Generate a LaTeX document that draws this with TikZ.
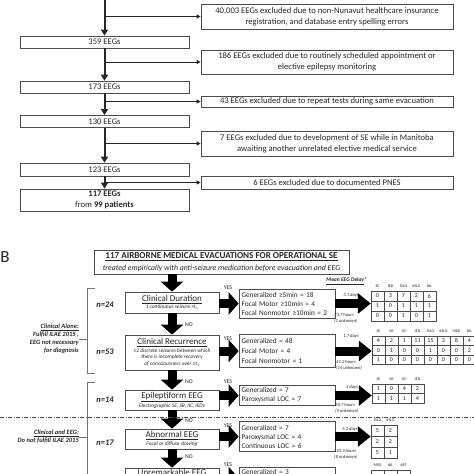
\documentclass[tikz,border=0pt]{standalone}
\usepackage{fontspec}
\setmainfont{Carlito}
\usetikzlibrary{arrows.meta}
\newcommand\mktab[6]{%
  \foreach \h [count=\c] in {#5} \node[hdr] (#1h\c) at ({#2+\c*13-6.5},{#3-5}) {\h};
  \foreach \r/\vals in {#6} {\foreach \v [count=\c] in \vals {\node[cell, minimum height=#4] (#1-\r-\c) at ({#2+\c*13-6.5},{#3+\r*#4-#4/2}) {\v};}}
}
\newcommand\ttlfont{\fontsize{9}{10}\selectfont}
\begin{document}
\begin{tikzpicture}[x=1pt,y=-1pt,
 abox/.style={draw=black!70, line width=0.7pt, align=center, inner sep=0pt, text=black!85, font=\fontsize{8.6}{11}\selectfont},
 mainarr/.style={draw=black!85, line width=2pt, -{Triangle[length=6pt,width=7pt]}},
 brarr/.style={draw=black!85, line width=0.9pt, -{Triangle[length=4pt,width=4pt]}},
 cbox/.style={draw=black!70, line width=0.7pt, align=center, inner sep=0pt, minimum width=94pt, text=black!85, font=\fontsize{5.4}{6.6}\selectfont\itshape},
 gbox/.style={draw=black!70, line width=0.7pt, align=left, inner xsep=2.5pt, inner ysep=0pt, text width=91pt, text=black!85, font=\fontsize{7.3}{9}\selectfont},
 fat/.style={draw=black, line width=9pt, -{Triangle[length=10pt,width=22pt]}},
 fatr/.style={draw=black, line width=9pt, -{Triangle[length=13pt,width=20pt]}},
 cell/.style={draw=black!70, line width=0.5pt, minimum width=13pt, inner sep=0pt, font=\fontsize{6}{6}\selectfont, text=black!85},
 hdr/.style={font=\fontsize{4}{4}\selectfont, text=black!85, inner sep=0pt},
 yn/.style={font=\fontsize{5.8}{6}\selectfont, text=black!85, inner sep=0pt},
 nlab/.style={font=\fontsize{8.5}{9}\selectfont\bfseries\itshape, text=black!85, inner sep=0pt},
 dly/.style={font=\fontsize{4.6}{5}\selectfont\itshape, text=black!85, inner sep=0pt},
 hrs/.style={font=\fontsize{4.6}{6}\selectfont\itshape, text=black!85, inner sep=0pt, align=left},
 brk/.style={draw=black!55, line width=0.6pt},
 side/.style={font=\fontsize{6.5}{8}\selectfont\bfseries\itshape, align=right, text=black!85, inner sep=0pt},
]
\useasboundingbox (0,0) rectangle (474,474);
\clip (0,0) rectangle (474,474);
\fill[white] (0,0) rectangle (474,474);

% ---------- Panel A ----------
\node[abox, minimum width=169, minimum height=12] (a359) at (104.5,42) {359 EEGs};
\node[abox, minimum width=169, minimum height=12] (a173) at (104.5,87) {173 EEGs};
\node[abox, minimum width=169, minimum height=12] (a130) at (104.5,121.5) {130 EEGs};
\node[abox, minimum width=169, minimum height=13] (a123) at (104.5,169.5) {123 EEGs};
\node[abox, minimum width=169, minimum height=22] (a117) at (104.5,200) {\textbf{117 EEGs}\\from \textbf{99 patients}};
\node[abox, minimum width=252, minimum height=25] (x1) at (327,16.5) {40,003 EEGs excluded due to non-Nunavut healthcare insurance\\registration, and database entry spelling errors};
\node[abox, minimum width=252, minimum height=24] (x2) at (327,62) {186 EEGs excluded due to routinely scheduled appointment or\\elective epilepsy monitoring};
\node[abox, minimum width=252, minimum height=11] (x3) at (327,101.5) {43 EEGs excluded due to repeat tests during same evacuation};
\node[abox, minimum width=252, minimum height=25] (x4) at (327,143.5) {7 EEGs excluded due to development of SE while in Manitoba\\awaiting another unrelated elective medical service};
\node[abox, minimum width=252, minimum height=13] (x5) at (327,182.5) {6 EEGs excluded due to documented PNES};
\coordinate (atop) at (104.5,-2);
\draw[mainarr] (atop) -- (a359.north);
\draw[brarr] (atop |- x1.west) -- (x1.west);
\draw[mainarr] (a359.south) -- (a173.north);
\draw[brarr] (a359.south |- x2.west) -- (x2.west);
\draw[mainarr] (a173.south) -- (a130.north);
\draw[brarr] (a173.south |- x3.west) -- (x3.west);
\draw[mainarr] (a130.south) -- (a123.north);
\draw[brarr] (a130.south |- x4.west) -- (x4.west);
\draw[mainarr] (a123.south) -- (a117.north);
\draw[brarr] (a123.south |- x5.west) -- (x5.west);

% ---------- Panel B ----------
\node[font=\fontsize{17}{17}\selectfont, text=black!85, inner sep=0pt] (B) at (5,257) {B};
\node[draw=black!70, line width=0.7pt, minimum width=255, minimum height=24, align=center, inner sep=0pt, text=black!85] (tb) at (221.5,262)
 {\fontsize{9.1}{10}\selectfont\bfseries\underline{117 AIRBORNE MEDICAL EVACUATIONS FOR OPERATIONAL SE}\\
  \fontsize{7.8}{10}\selectfont\mdseries\itshape treated empirically with anti-seizure medication before evacuation and EEG};

\node[cbox, minimum height=21] (dur) at (172,302.5)
 {\ttlfont\upshape\underline{Clinical Duration}\\[0.8pt]1 continuous seizure ≥t\textsubscript{1}};
\node[cbox, minimum height=35] (rec) at (172,352.5)
 {\ttlfont\upshape\underline{Clinical Recurrence}\\[0.8pt]≥2 discrete seizures between which\\there is incomplete recovery\\of consciousness over ≥t\textsubscript{1}};
\node[cbox, minimum height=20] (epi) at (172,400)
 {\ttlfont\upshape\underline{Epileptiform EEG}\\[0.8pt]Electrographic SE, SB, IIC, IEDs};
\node[cbox, minimum height=20] (abn) at (172,439)
 {\ttlfont\upshape\underline{Abnormal EEG}\\[0.8pt]Focal or diffuse slowing};
\node[cbox, minimum height=20] (unr) at (172,478)
 {\ttlfont\upshape\underline{Unremarkable EEG}\\[0.8pt]\strut};

\node[nlab] (n24) at (105,305) {n=24};
\node[nlab] (n53) at (105,352) {n=53};
\node[nlab] (n14) at (105,400) {n=14};
\node[nlab] (n17) at (105,443) {n=17};

\draw[fat] (tb.south -| dur.north) -- (dur.north);
\draw[fat] (dur.south) -- (rec.north);
\draw[fat] (rec.south) -- (epi.north);
\draw[fat] (epi.south) -- (abn.north);
\draw[fat] (abn.south) -- (unr.north);
\node[yn] (no1) at (189,325) {NO};
\node[yn] (no2) at (189,382) {NO};
\node[yn] (no3) at (189,421) {NO};
\node[yn] (no4) at (189,457) {NO};

% result boxes
\node[gbox, minimum height=29] (g1) at (287,303.5) {Generalized ≥5min = 18\\Focal Motor ≥10min = 4\\Focal Nonmotor ≥10min = 2};
\node[gbox, minimum height=33, font=\fontsize{7.3}{10}\selectfont] (g2) at (287,351) {Generalized = 48\\Focal Motor = 4\\Focal Nonmotor = 1};
\node[gbox, minimum height=20] (g3) at (287,395.5) {Generalized = 7\\Paroxysmal LOC = 7};
\node[gbox, minimum height=30] (g4) at (287,436.5) {Generalized = 7\\Paroxysmal LOC = 4\\Continuous LOC = 6};
\node[gbox, minimum height=30] (g5) at (287,482) {Generalized = 3\\\strut\\\strut};

\draw[fat] (dur.east |- g1.west) -- (g1.west);
\draw[fat] (rec.east |- g2.west) -- (g2.west);
\draw[fat] (epi.east |- g3.west) -- (g3.west);
\draw[fat] (abn.east |- g4.west) -- (g4.west);
\draw[fat] (unr.east) -- (unr.east -| g5.west);
\node[yn] (y1) at (228,288) {YES};
\node[yn] (y2) at (228,339) {YES};
\node[yn] (y3) at (228,382) {YES};
\node[yn] (y4) at (228,426) {YES};
\node[yn] (y5) at (228,465) {YES};

% tables
\node[font=\fontsize{5.5}{6}\selectfont\bfseries\itshape, text=black!85, inner sep=0pt, anchor=east] (mean) at (367,281) {\underline{Mean EEG Delay}*};
\mktab{t1}{371}{291}{10}{SE,IED,fSLO,dSLO,NIL}{1/{0,3,7,2,6},2/{1,0,1,1,1},3/{0,0,1,0,1}}
\mktab{t2}{372}{336}{9.5}{SE,SB,IIC,IED,fSLO,dSLO,MED,NIL}{1/{4,2,1,11,15,3,8,4},2/{0,1,0,0,1,0,0,2},3/{1,0,0,0,0,0,0,0}}
\mktab{t3}{372}{384}{9.5}{SE,SB,IIC,IED}{1/{1,0,4,2},2/{1,1,1,4}}
\mktab{t4}{371}{425}{11}{fSLO,dSLO}{1/{5,2},2/{2,2},3/{5,1}}
\mktab{t5}{371}{470}{11}{MED,NIL,ART}{1/{{},{},{}}}

\draw[fatr] (g1.east) -- (g1.east -| t1-2-1.west);
\draw[fatr] (g2.east) -- (g2.east -| t2-2-1.west);
\draw[fatr] (g3.east) -- (g3.east -| t3-1-1.west);
\draw[fatr] (g4.east) -- (g4.east -| t4-2-1.west);

\node[dly] (d1) at (351,295) {3.1 days};
\node[hrs, anchor=west] (h1) at (334,318.5) {73.7 hours\\(2 unknown)};
\node[dly] (d2) at (351,336) {1.7 days};
\node[hrs, anchor=west] (h2) at (336,365) {41.2 hours\\(14 unknown)};
\node[dly] (d3) at (352,387) {4 days};
\node[hrs, anchor=west] (h3) at (335,408) {96.7 hours\\(5 unknown)};
\node[dly] (d4) at (350,429) {5.2 days};
\node[hrs, anchor=west] (h4) at (334,454) {125.3 hours\\(8 unknown)};

% brackets and side labels
\node[side, anchor=east] (s1) at (79,339) {\underline{Clinical Alone:}\\Fulfill ILAE 2015 ,\\EEG not necessary\\for diagnosis};
\node[side, anchor=east] (s2) at (79,437) {\underline{Clinical and EEG:}\\Do not fulfill ILAE 2015};
\coordinate (b1t) at (95,288);
\coordinate (b1b) at (95,373);
\coordinate (b2t) at (95,382);
\draw[brk] (b1t) -- (87,288) -- (87,373) -- (b1b);
\draw[brk] (87,339) -- (s1.east);
\draw[brk] (b2t) -- (87,382) -- (87,490);
\draw[brk] (87,437) -- (s2.east);

\coordinate (dl) at (0,417);
\coordinate (dr) at (474,417);
\draw[black!70, line width=1pt, dash pattern=on 4pt off 1.5pt on 1pt off 1.5pt] (dl) -- (dr);
\end{tikzpicture}
\end{document}
